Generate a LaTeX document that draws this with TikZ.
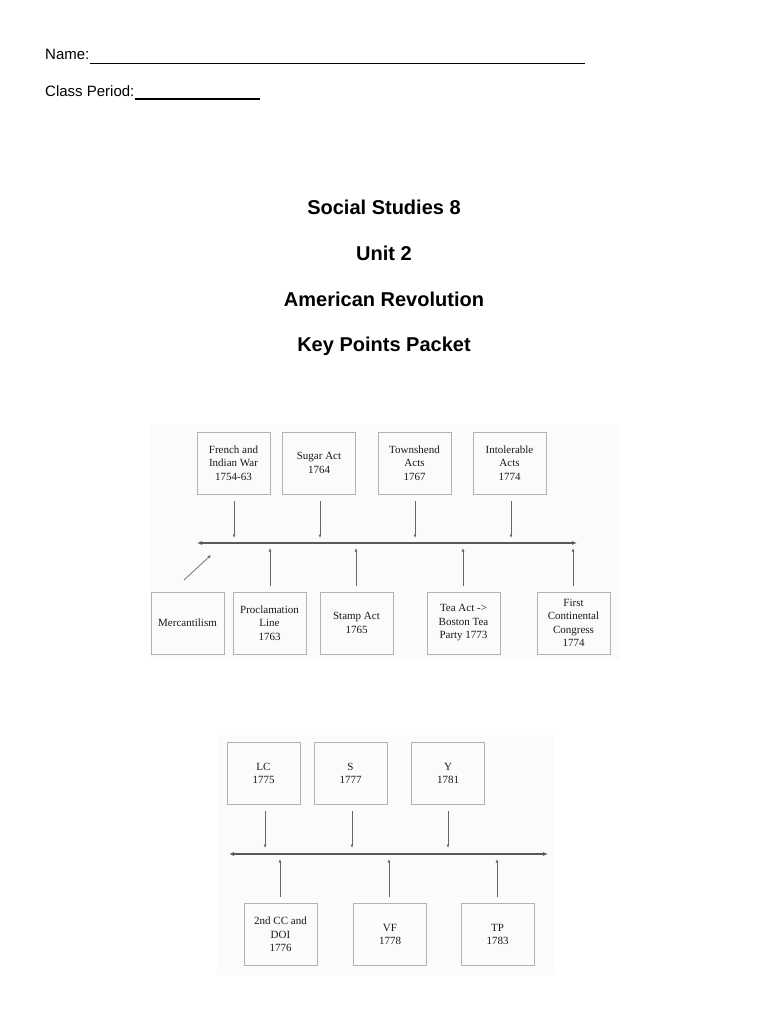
\documentclass[tikz,border=0pt]{standalone}
\usepackage{fontspec}
\usetikzlibrary{arrows.meta}
\setmainfont{Liberation Sans}
\newfontfamily\boxfont{Liberation Serif}
\begin{document}
\begin{tikzpicture}[x=1pt,y=-1pt,
  ev/.style={draw=gray!60,line width=0.7pt,minimum width=73pt,minimum height=62pt,align=center,font=\boxfont\fontsize{11}{13.5}\selectfont,text=black!90,inner sep=1pt},
  tl/.style={draw=black!65,line width=1.3pt,{Latex[length=5pt,width=4pt]}-{Latex[length=5pt,width=4pt]}},
  ar/.style={draw=black!60,line width=0.7pt,-{Latex[length=3.5pt,width=3pt]}},
  ttl/.style={font=\bfseries\fontsize{20}{24}\selectfont}]
\useasboundingbox (0,0) rectangle (768,1024);
\fill[white] (0,0) rectangle (768,1024);
\node[anchor=base west,font=\fontsize{15}{18}\selectfont,inner sep=0] (nm) at (45,60) {Name:};
\coordinate (nl) at (585,63);
\draw[line width=0.8pt] (nm.base east) ++(0,3) -- (nl);
\node[anchor=base west,font=\fontsize{15}{18}\selectfont,inner sep=0] (cp) at (45,97) {Class Period:};
\coordinate (cl) at (260,99);
\draw[line width=1.2pt] (cp.base east) ++(0,2) -- (cl);
\node[ttl] (t1) at (384,207) {Social Studies 8};
\node[ttl] (t2) at (384,253) {Unit 2};
\node[ttl] (t3) at (384,299) {American Revolution};
\node[ttl] (t4) at (384,346) {Key Points Packet};
\fill[black!1.5] (150,425) rectangle (620,660);
\fill[black!1.5] (217,735) rectangle (555,975);
% diagram 1
\node[ev] (a1) at (233.5,463) {French and\\Indian War\\1754-63};
\node[ev] (a2) at (319,463) {Sugar Act\\1764};
\node[ev] (a3) at (414.5,463) {Townshend\\Acts\\1767};
\node[ev] (a4) at (509.5,463) {Intolerable\\Acts\\1774};
\node[ev] (b1) at (187.5,623) {Mercantilism};
\node[ev] (b2) at (269.5,623) {Proclamation\\Line\\1763};
\node[ev] (b3) at (356.5,623) {Stamp Act\\1765};
\node[ev] (b4) at (463.5,623) {Tea Act ->\\Boston Tea\\Party 1773};
\node[ev] (b5) at (573.5,623) {First\\Continental\\Congress\\1774};
\coordinate (L1) at (197,543); \coordinate (R1) at (577,543);
\draw[tl] (L1) -- (R1);
\foreach \x in {234,320,415,511}{\draw[ar] (\x,501) -- (\x,538);}
\foreach \x in {270,356,463,573}{\draw[ar] (\x,586) -- (\x,548);}
\draw[ar] (184,580) -- (211,555);
% diagram 2
\node[ev] (c1) at (263.5,773.5) {LC\\1775};
\node[ev] (c2) at (350.5,773.5) {S\\1777};
\node[ev] (c3) at (448,773.5) {Y\\1781};
\node[ev] (d1) at (280.5,934.5) {2nd CC and\\DOI\\1776};
\node[ev] (d2) at (390,934.5) {VF\\1778};
\node[ev] (d3) at (497.5,934.5) {TP\\1783};
\coordinate (L2) at (229,854); \coordinate (R2) at (548,854);
\draw[tl] (L2) -- (R2);
\foreach \x in {265,352,448}{\draw[ar] (\x,811) -- (\x,848);}
\foreach \x in {280,389,497}{\draw[ar] (\x,897) -- (\x,859);}
\end{tikzpicture}
\end{document}
